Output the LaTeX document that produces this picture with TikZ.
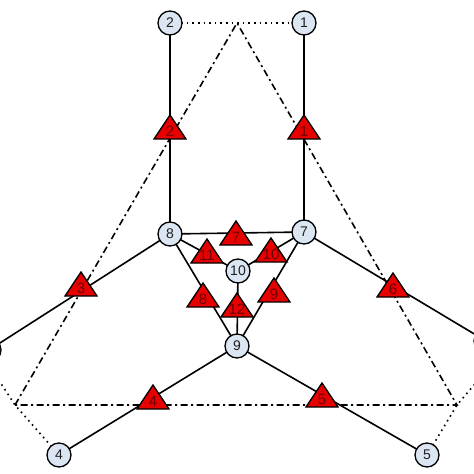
\documentclass[tikz,border=0pt]{standalone}
\usepackage{fontspec}
\setmainfont{Liberation Sans}
\begin{document}
\begin{tikzpicture}[x=1pt,y=-1pt,
  circ/.style={circle,draw=black,line width=1.3pt,fill={rgb,255:red,220;green,230;blue,242},minimum size=24pt,inner sep=0pt,font=\fontsize{14}{14}\selectfont,text={rgb,255:red,30;green,30;blue,30}},
  solidline/.style={line width=1.6pt,black},
  dashdotline/.style={line width=1.6pt,black,dash pattern=on 7pt off 3.5pt on 2pt off 3.5pt},
  dotline/.style={line width=1.6pt,black,dash pattern=on 1.6pt off 4pt},
  tribox/.style={fill={rgb,255:red,230;green,0;blue,0},draw=black,line width=1.3pt,line join=miter},
  trilab/.style={inner sep=0pt,font=\fontsize{15}{15}\selectfont,text={rgb,255:red,110;green,0;blue,0}}]
\useasboundingbox (0,0) rectangle (474,474);
\clip (0,0) rectangle (474,474);
% coordinates of outer triangle
\coordinate (cT) at (237,23);
\coordinate (cL) at (15,405);
\coordinate (cR) at (457,405);
\coordinate (oL) at (-15,359);
\coordinate (oR) at (491,365);
% node positions
\path (304,23) coordinate (p1) (170,23) coordinate (p2) (304,232) coordinate (p7)
      (170,234) coordinate (p8) (237,346) coordinate (p9) (238,271) coordinate (p10)
      (59,455) coordinate (p4) (427,455) coordinate (p5) (-11,350) coordinate (pL) (486,341) coordinate (pR);
% dash-dot triangle
\draw[dashdotline] (cL) -- (cT) -- (cR) -- cycle;
% dotted lines
\draw[dotline] (p2) -- (p1);
\draw[dotline] (p4) -- (cL) -- (oL);
\draw[dotline] (p5) -- (cR) -- (oR);
% solid lines
\draw[solidline] (p2) -- (p8);
\draw[solidline] (p1) -- (p7);
\draw[solidline] (p8) -- (pL);
\draw[solidline] (p7) -- (pR);
\draw[solidline] (p9) -- (p4);
\draw[solidline] (p9) -- (p5);
\draw[solidline] (p8) -- (p7);
\draw[solidline] (p8) -- (p9);
\draw[solidline] (p7) -- (p9);
\draw[solidline] (p8) -- (p10);
\draw[solidline] (p7) -- (p10);
\draw[solidline] (p9) -- (p10);
% triangles
\foreach \nm/\x/\y in {1/304/127,2/170/127,3/81/284,4/153/397,5/322/395,6/393/285,7/236/233,8/203/295,9/274/290,10/271/250,11/207/251,12/237/305}{
  \filldraw[tribox] (\x-16,\y+12) -- (\x,\y-12) -- (\x+16,\y+12) -- cycle;
  \node[trilab] (t\nm) at (\x,\y+4) {\nm};
}
% circle nodes
\node[circ] (n1) at (p1) {1};
\node[circ] (n2) at (p2) {2};
\node[circ] (n7) at (p7) {7};
\node[circ] (n8) at (p8) {8};
\node[circ] (n9) at (p9) {9};
\node[circ] (n10) at (p10) {10};
\node[circ] (n4) at (p4) {4};
\node[circ] (n5) at (p5) {5};
\node[circ] (nL) at (pL) {};
\node[circ] (nR) at (pR) {};
\end{tikzpicture}
\end{document}
